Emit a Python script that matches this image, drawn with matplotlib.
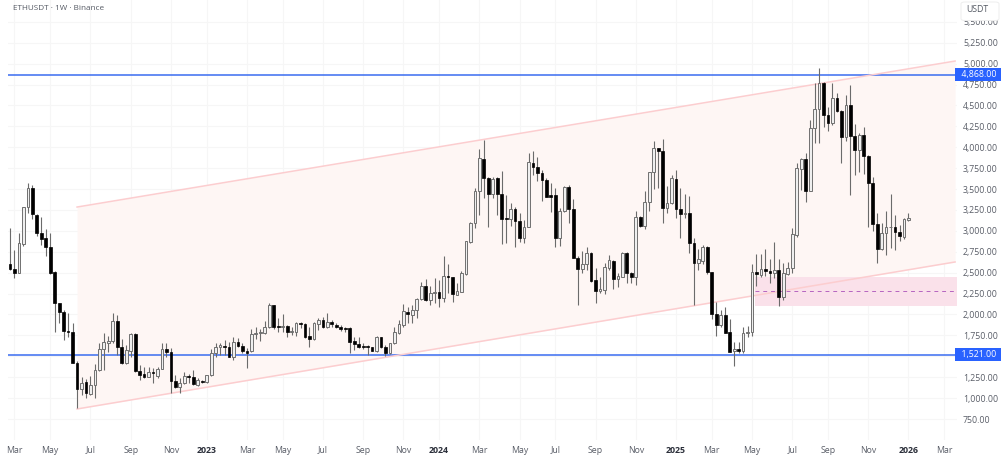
import numpy as np
import pandas as pd
import matplotlib
matplotlib.use("Agg")
import matplotlib.pyplot as plt
import matplotlib.dates as mdates
from matplotlib.patches import FancyBboxPatch, Rectangle

plt.rcParams['font.family'] = ['Open Sans', 'DejaVu Sans']

# Velas semanales
opens = [2603,2540,2500,2843,3281,3508,3190,2978,2914,2811,
         2508,2133,2033,1802,1794,1423,1112,1188,1049,1152,
         1336,1583,1663,1678,1922,1607,1415,1567,1762,1324,
         1284,1256,1308,1264,1352,1583,1551,1208,1128,1176,
         1264,1248,1156,1208,1188,1272,1535,1615,1627,1615,
         1495,1667,1623,1567,1563,1766,1782,1774,1846,2109,
         1862,1854,1862,1790,1794,1901,1882,1742,1702,1886,
         1933,1846,1910,1878,1846,1834,1834,1678,1650,1622,
         1614,1606,1563,1726,1614,1543,1654,1774,1874,2033,
         1993,2053,2181,2340,2173,2252,2272,2201,2460,2444,
         2236,2272,2484,2870,3098,3472,3859,3628,3440,3628,
         3441,3150,3138,3257,3122,2911,3050,3816,3768,3696,
         3608,3425,3425,2915,3234,3529,3257,2679,2548,2600,
         2739,2412,2285,2293,2560,2643,2420,2452,2739,2492,
         2444,3170,3058,3349,3700,3987,3951,3269,3337,3624,
         3257,3202,3218,2859,2612,2643,2811,2504,2006,1874,
         1989,1790,1563,1587,1563,1774,1790,2504,2472,2540,
         2524,2500,2532,2213,2484,2559,2950,3736,3863,3480,
         4230,4453,4772,4382,4294,4593,4437,4126,4501,4138,
         3967,4150,3899,3568,3082,2787,2978,3042,3050,2990,
         2930,3126]
highs = [3030,2771,2978,3289,3568,3548,3202,3170,3018,2970,
         2520,2140,2053,2013,1902,1447,1256,1224,1264,1407,
         1655,1774,1742,2013,1993,1702,1635,1774,1774,1395,
         1375,1367,1355,1375,1663,1663,1595,1276,1236,1316,
         1288,1336,1236,1216,1280,1583,1663,1663,1694,1674,
         1726,1714,1663,1595,1822,1846,1822,1925,2133,2113,
         1953,2005,1874,1854,1913,1913,1894,1854,1913,1953,
         1965,2021,1933,1894,1874,1854,1854,1734,1726,1654,
         1634,1614,1742,1734,1634,1660,1854,1933,2125,2093,
         2113,2193,2392,2420,2340,2432,2412,2699,2603,2452,
         2380,2523,2882,3110,3508,3975,4086,3640,3648,3648,
         3720,3429,3337,3281,3210,3130,3935,3959,3879,3728,
         3628,3568,3509,3269,3537,3549,3377,2699,2763,2803,
         2751,2552,2452,2612,2715,2651,2500,2751,2751,2512,
         3242,3180,3481,3708,4079,3995,4095,3541,3668,3728,
         3509,3441,3417,2911,2779,2831,2819,2512,2153,2053,
         2093,1941,1674,1674,1846,1862,2603,2723,2723,2779,
         2659,2867,2659,2611,2631,3034,3807,3875,3927,4326,
         4772,4944,4784,4485,4764,4653,4445,4625,4740,4278,
         4166,4238,3903,3648,3209,3090,3233,3437,3189,3066,
         3150,3209]
lows = [2532,2440,2492,2819,3209,3138,2938,2831,2699,2484,
        1794,1902,1694,1726,1415,877,1037,997,1037,997,
        1328,1336,1555,1655,1515,1407,1407,1487,1316,1216,
        1244,1248,1176,1240,1344,1495,1064,1116,1064,1168,
        1184,1152,1144,1184,1184,1264,1495,1515,1515,1487,
        1455,1615,1543,1355,1555,1706,1682,1766,1838,1826,
        1786,1794,1734,1754,1742,1834,1714,1614,1694,1814,
        1834,1838,1854,1834,1806,1790,1543,1575,1595,1591,
        1515,1559,1555,1602,1503,1527,1646,1766,1846,1901,
        1901,1953,2173,2165,2113,2133,2085,2153,2252,2153,
        2228,2264,2476,2850,3030,3189,3389,3050,3389,3189,
        2843,2851,3058,2811,2871,2859,3042,3668,3600,3357,
        3401,3230,2803,2819,3226,3090,2671,2109,2500,2532,
        2388,2141,2253,2245,2532,2301,2332,2444,2372,2372,
        2348,3050,3026,3242,3501,3509,3098,3210,3321,3150,
        2911,3150,2739,2113,2532,2604,2484,1950,1746,1854,
        1774,1547,1383,1535,1535,1734,1742,2340,2452,2460,
        2372,2432,2105,2173,2472,2500,2930,3488,3349,3472,
        4055,4055,4246,4190,4270,4421,3807,4078,3429,3668,
        3700,3680,3050,3002,2619,2771,2711,2791,2771,2882,
        2906,3118]
closes = [2540,2500,2851,3281,3512,3197,2970,2906,2811,2500,
          2133,2029,1802,1790,1423,1112,1184,1056,1152,1336,
          1583,1671,1686,1922,1607,1415,1575,1762,1324,1272,
          1256,1312,1296,1352,1583,1551,1208,1128,1184,1268,
          1248,1164,1216,1192,1276,1543,1615,1631,1615,1495,
          1667,1623,1559,1543,1766,1774,1790,1846,2113,1854,
          1846,1862,1790,1802,1898,1886,1734,1710,1894,1933,
          1854,1913,1882,1846,1822,1822,1670,1646,1614,1606,
          1610,1567,1726,1614,1543,1654,1786,1886,2037,2001,
          2053,2181,2340,2173,2252,2272,2201,2460,2444,2244,
          2276,2492,2874,3098,3480,3867,3628,3440,3620,3440,
          3146,3138,3257,3122,2919,3050,3820,3768,3696,3608,
          3409,3409,2915,3242,3529,3257,2679,2548,2600,2731,
          2404,2285,2309,2572,2651,2420,2460,2739,2492,2444,
          3170,3058,3349,3700,3991,3951,3269,3337,3628,3257,
          3202,3218,2859,2612,2659,2811,2504,2006,1874,1993,
          1782,1555,1587,1567,1782,1790,2508,2484,2540,2524,
          2500,2532,2213,2492,2559,2962,3748,3863,3480,4234,
          4461,4772,4382,4294,4593,4433,4126,4501,4138,3971,
          4150,3899,3568,3082,2787,2978,3042,3050,2990,2938,
          3138,3158]

# Ejes
first_week = '2022-02-28'
price_ticks = list(range(750, 5750, 250))
hidden_price = 1500  # tapado por la etiqueta 1,521.00 en el original
month_ticks = ['2022-03-07', '2022-05-02', '2022-07-04', '2022-09-05', '2022-11-07',
               '2023-01-02', '2023-03-06', '2023-05-01', '2023-07-03', '2023-09-04', '2023-11-06',
               '2024-01-01', '2024-03-04', '2024-05-06', '2024-07-01', '2024-09-02', '2024-11-04',
               '2025-01-06', '2025-03-03', '2025-05-05', '2025-07-07', '2025-09-01', '2025-11-03',
               '2026-01-05', '2026-03-02']
month_labels = ['Mar', 'May', 'Jul', 'Sep', 'Nov',
                '2023', 'Mar', 'May', 'Jul', 'Sep', 'Nov',
                '2024', 'Mar', 'May', 'Jul', 'Sep', 'Nov',
                '2025', 'Mar', 'May', 'Jul', 'Sep', 'Nov',
                '2026', 'Mar']

# Canal, niveles y zona
channel_dates = ['2022-06-13', '2026-03-19']
channel_upper = [3285, 5031]
channel_lower = [870, 2628]
levels = [4868, 1521]
zone_start = '2025-05-10'
zone_top = 2448
zone_bottom = 2101
zone_mid = 2281

W, H = 1004, 459
fig = plt.figure(figsize=(W / 100, H / 100), dpi=100, facecolor='white')
ax = fig.add_axes([7.7 / W, 1 - 440 / H, (957 - 7.7) / W, 440 / H])

fechas = pd.date_range(first_week, periods=len(opens), freq='7D')
x = mdates.date2num(fechas)
o, h, l, c = map(np.array, (opens, highs, lows, closes))
t0 = x[0]
ax.set_xlim(t0 - 3.6, t0 + 1483)
ax.set_ylim(499, 5761)

# Cuadricula
ax.set_yticks(price_ticks)
ax.set_yticklabels(['' if p == hidden_price else f'{p:,.2f}' for p in price_ticks])
ax.set_xticks(mdates.date2num(pd.to_datetime(month_ticks)))
ax.set_xticklabels(month_labels)
ax.grid(True, color='#f6f6f6', linewidth=0.8)
ax.set_axisbelow(True)
ax.yaxis.tick_right()
ax.tick_params(axis='both', length=0, labelsize=6.3, labelcolor='#5a5e68')
ax.tick_params(axis='y', pad=4.3)
ax.tick_params(axis='x', pad=4)
for lab in ax.get_xticklabels():
    if lab.get_text().isdigit():
        lab.set_fontweight('bold')
        lab.set_color('#2a2e39')
for s in ax.spines.values():
    s.set_visible(False)

# Canal
xc = mdates.date2num(pd.to_datetime(channel_dates))
ax.fill_between(xc, channel_lower, channel_upper, color='#fef6f4', linewidth=0, zorder=1)

# Zona rosa y niveles
xz = mdates.date2num(pd.Timestamp(zone_start))
ax.add_patch(Rectangle((xz, zone_bottom), ax.get_xlim()[1] - xz, zone_top - zone_bottom,
                       facecolor='#fae1ea', edgecolor='none', zorder=1.2))
ax.plot(xc, channel_upper, color='#fccdcf', linewidth=1.1, zorder=1.6)
ax.plot(xc, channel_lower, color='#fccdcf', linewidth=1.1, zorder=1.6)
ax.plot([xz, ax.get_xlim()[1]], [zone_mid, zone_mid], color='#b565c0', linewidth=0.7,
        linestyle=(0, (4, 4)), zorder=1.7)
for nivel in levels:
    ax.axhline(nivel, color='#3a6cf0', linewidth=1.1, zorder=1.5)
    ax.text(1.0, nivel, f'  {nivel:,.2f} ', transform=ax.get_yaxis_transform(), fontsize=6.3,
            color='white', va='center', ha='left', zorder=10, clip_on=False,
            bbox=dict(facecolor='#2962ff', edgecolor='none', pad=1.6))

# Velas
sube = c >= o
ax.vlines(x, l, h, color='#6b6b6b', linewidth=0.8, zorder=3)
ancho = 4.3
altura = np.maximum(np.abs(c - o), 8)
base = np.minimum(o, c)
ax.bar(x[sube], altura[sube], bottom=base[sube], width=ancho, color='#efefef',
       edgecolor='#707070', linewidth=0.7, zorder=4)
ax.bar(x[~sube], altura[~sube], bottom=base[~sube], width=ancho, color='black',
       edgecolor='black', linewidth=0.5, zorder=4)

# Titulo y caja de la moneda
fig.text(13 / W, 1 - 9 / H, 'ETHUSDT · 1W · Binance', fontsize=5.9, color='#555a64', va='center', ha='left')
fig.add_artist(FancyBboxPatch((961 / W, 1 - 20.5 / H), 38 / W, 18.5 / H,
                              boxstyle='round,pad=0,rounding_size=0.004',
                              facecolor='white', edgecolor='#eeeeee', linewidth=0.7,
                              transform=fig.transFigure, zorder=5))
fig.text(966 / W, 1 - 10 / H, 'USDT', fontsize=6.3, color='#555a64', va='center', ha='left', zorder=6)

fig.savefig('out.png', dpi=100)
